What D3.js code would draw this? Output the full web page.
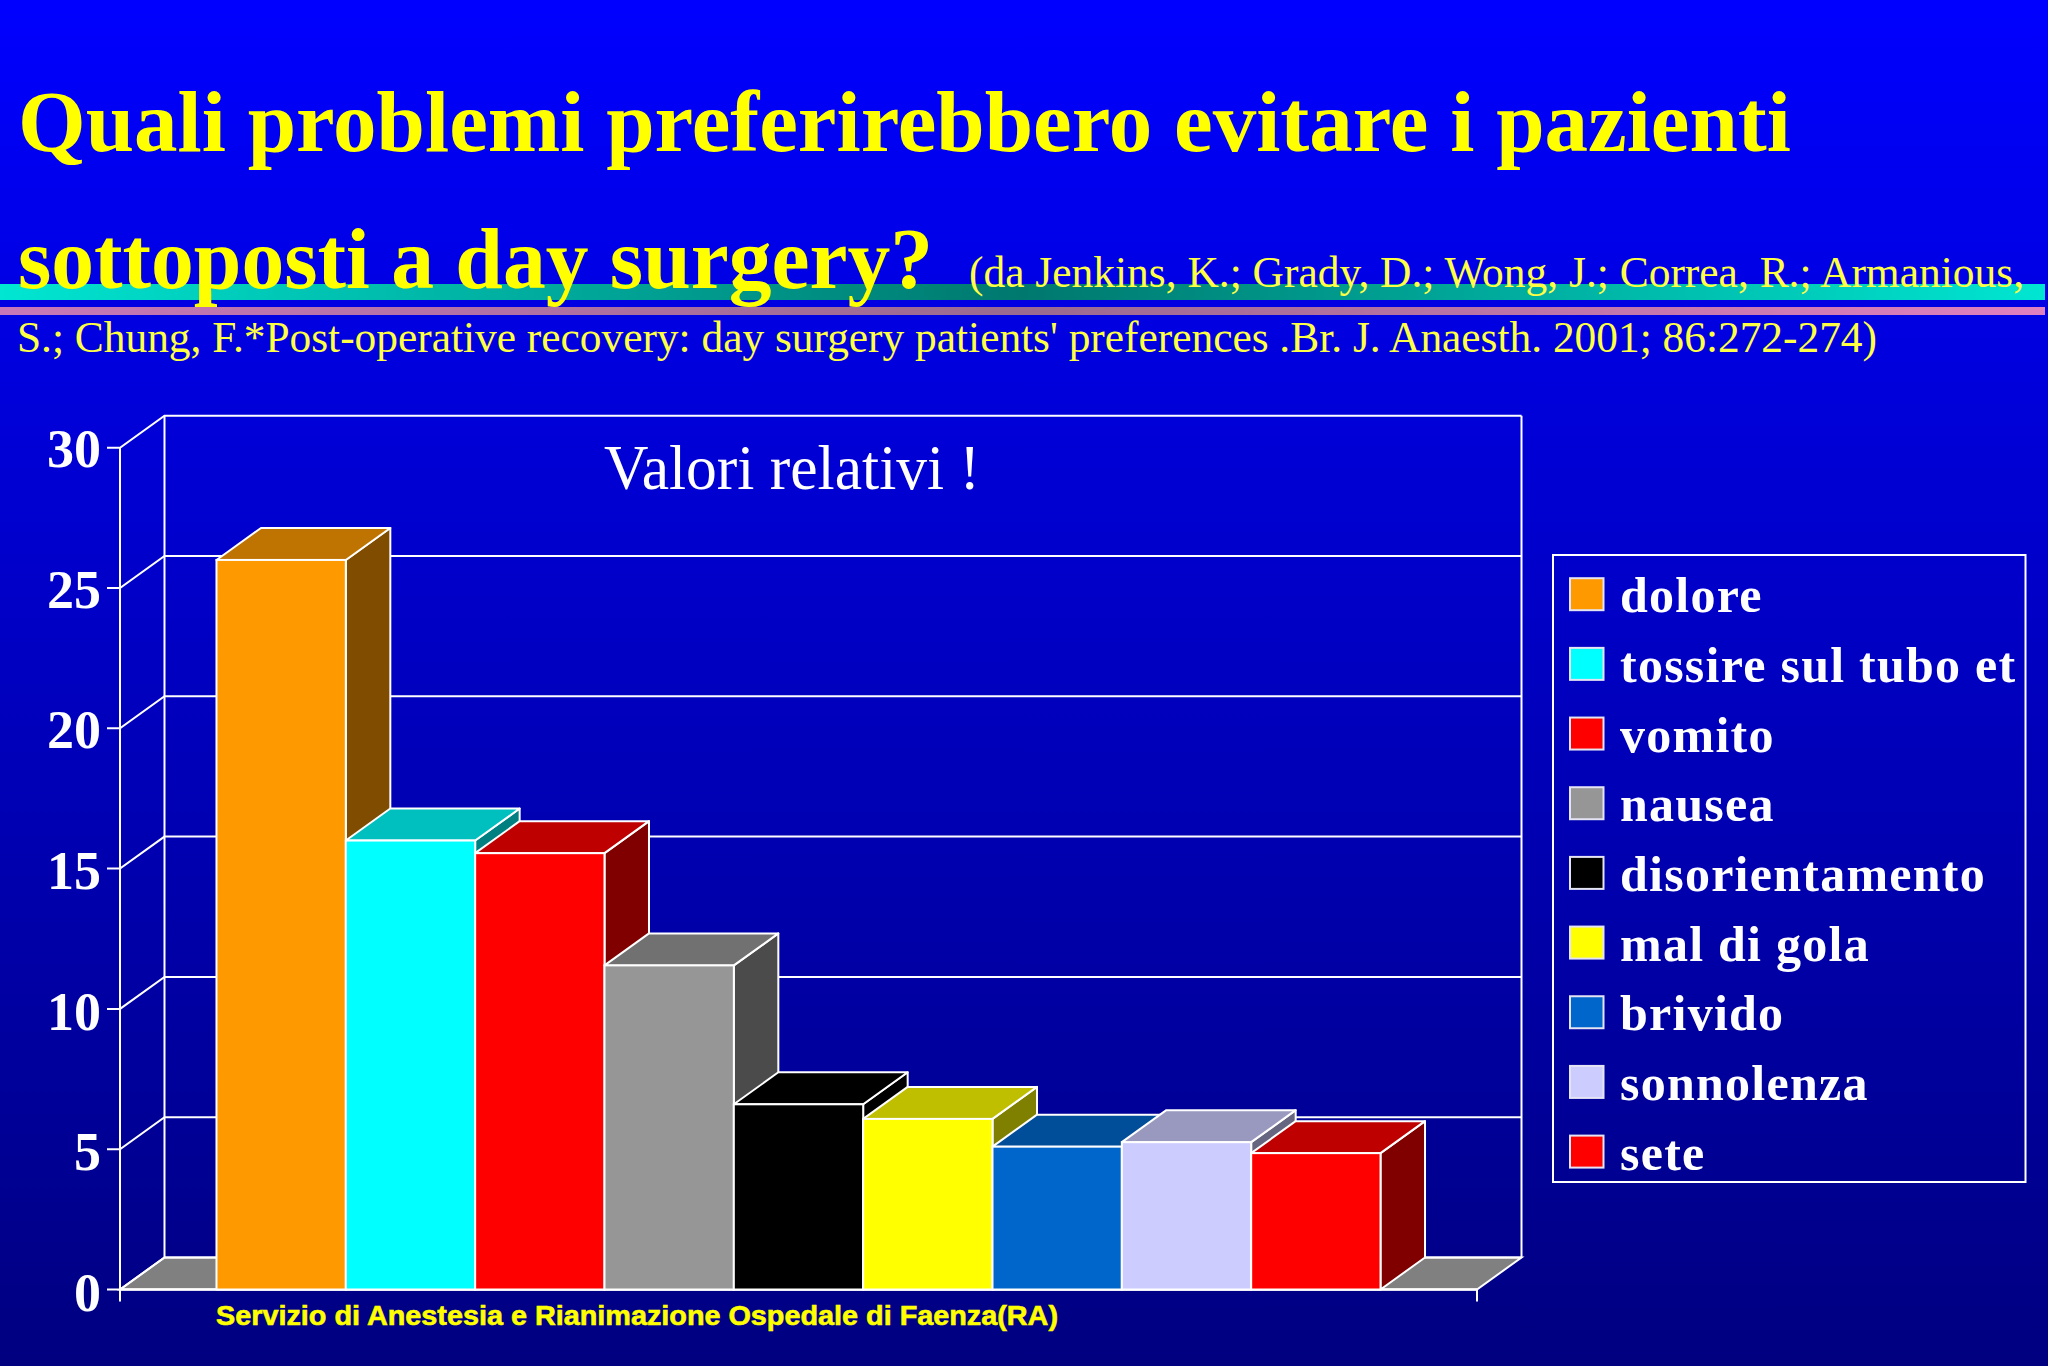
<!DOCTYPE html>
<html><head><meta charset="utf-8">
<script src="https://cdn.jsdelivr.net/npm/d3@7"></script>
<style>html,body{margin:0;padding:0;background:#000080;overflow:hidden}svg{display:block}</style>
</head><body><div id="c"></div>
<script>
const categories = ["dolore","tossire sul tubo et","vomito","nausea","disorientamento","mal di gola","brivido","sonnolenza","sete"];
const values = [26.0,16.0,15.55,11.55,6.6,6.08,5.09,5.25,4.86];
const colors = ["#FF9900","#00FFFF","#FF0000","#969696","#000000","#FFFF00","#0066CC","#CCCCFF","#FF0000"];
const yTicks = [0,5,10,15,20,25,30];
const titleLines = ["Quali problemi preferirebbero evitare i pazienti","sottoposti a day surgery?"];
const citeLines = ["(da Jenkins, K.; Grady, D.; Wong, J.; Correa, R.; Armanious,","S.; Chung, F.*Post-operative recovery: day surgery patients' preferences .Br. J. Anaesth. 2001; 86:272-274)"];
const note = "Valori relativi !";
const footer = "Servizio di Anestesia e Rianimazione Ospedale di Faenza(RA)";

const W=2048,H=1366;
const svg=d3.select("#c").append("svg").attr("width",W).attr("height",H);
const defs=svg.append("defs");
const lg=(id,stops,vertical)=>{const g=defs.append("linearGradient").attr("id",id).attr("x1",0).attr("y1",0).attr("x2",vertical?0:1).attr("y2",vertical?1:0);
  stops.forEach(s=>g.append("stop").attr("offset",s[0]).attr("stop-color",s[1]));};
lg("bg",[[0,"#0000FF"],[1,"#000080"]],true);
lg("band1",[[0,"#00E6D2"],[.5,"#00786E"],[1,"#00E6D2"]]);
lg("band2",[[0,"#C878B8"],[.5,"#9A6A90"],[1,"#E080C0"]]);
svg.append("rect").attr("width",W).attr("height",H).attr("fill","url(#bg)");
svg.append("rect").attr("x",0).attr("y",284).attr("width",2045).attr("height",16).attr("fill","url(#band1)");
svg.append("rect").attr("x",0).attr("y",307).attr("width",2045).attr("height",8).attr("fill","url(#band2)");

const serif="'Liberation Serif','Times New Roman',serif";
const txt=(s,x,y,size,fill,weight,len,fam)=>{const t=svg.append("text").attr("x",x).attr("y",y).attr("font-family",fam||serif).attr("font-size",size).attr("fill",fill).attr("font-weight",weight).text(s);
  if(len)t.attr("textLength",len).attr("lengthAdjust","spacingAndGlyphs");return t;};
txt(titleLines[0],18,151,87,"#FFFF00","bold",1773);
txt(titleLines[1],18,288,87,"#FFFF00","bold",915);
txt(citeLines[0],969,287,44,"#FFFF44","normal",1055);
txt(citeLines[1],17,352,44,"#FFFF44","normal",1860);

// chart geometry
const DX=44.5,DY=32;
const y=d3.scaleLinear().domain([0,30]).range([1289.5,447.7]);
const labelY=d3.scaleLinear().domain([0,30]).range([1311,467]);
const x=d3.scaleBand().domain(categories).range([120,1477]).paddingInner(0).paddingOuter(0.746);
const line=d3.line();
const g=svg.append("g");
const W2="#FFFFFF";
// floor
g.append("path").attr("d",line([[x.range()[0],y(0)],[x.range()[0]+DX,y(0)-DY],[x.range()[1]+DX,y(0)-DY],[x.range()[1],y(0)]])+"Z").attr("fill","#808080").attr("stroke",W2).attr("stroke-width",2);
// walls
const x0=x.range()[0],x1=x.range()[1];
g.append("path").attr("d",line([[x0,y(30)],[x0,y(0)+12]])).attr("stroke",W2).attr("stroke-width",2).attr("fill","none");
g.append("path").attr("d",line([[x0+DX,y(30)-DY],[x0+DX,y(0)-DY]])).attr("stroke",W2).attr("stroke-width",2);
g.append("path").attr("d",line([[x1+DX,y(30)-DY],[x1+DX,y(0)-DY]])).attr("stroke",W2).attr("stroke-width",2);
g.append("path").attr("d",line([[x1,y(0)],[x1,y(0)+12]])).attr("stroke",W2).attr("stroke-width",2);
g.append("path").attr("d",line([[x0,y(0)],[x1,y(0)]])).attr("stroke",W2).attr("stroke-width",2.5);
yTicks.forEach(v=>{
  g.append("path").attr("d",line([[x0-13,y(v)],[x0,y(v)],[x0+DX,y(v)-DY],[x1+DX,y(v)-DY]])).attr("fill","none").attr("stroke",W2).attr("stroke-width",2);
  g.append("text").attr("x",x0-19).attr("y",labelY(v)).attr("text-anchor","end").attr("font-family",serif).attr("font-weight","bold").attr("font-size",54).attr("fill","#FFFFFF").text(v);
});
// bars
const shade=(c,k)=>{const r=d3.rgb(c);return d3.rgb(r.r*k,r.g*k,r.b*k).formatHex();};
const bars=g.selectAll("g.bar").data(categories.map((c,i)=>({c,v:values[i],col:colors[i]}))).join("g").attr("class","bar");
bars.append("path").attr("d",d=>{const a=x(d.c)+x.bandwidth(),t=y(d.v),b=y(0);return line([[a,t],[a+DX,t-DY],[a+DX,b-DY],[a,b]])+"Z";}).attr("fill",d=>shade(d.col,.5)).attr("stroke",W2).attr("stroke-width",2).attr("stroke-linejoin","round");
bars.append("path").attr("d",d=>{const l=x(d.c),a=l+x.bandwidth(),t=y(d.v);return line([[l,t],[l+DX,t-DY],[a+DX,t-DY],[a,t]])+"Z";}).attr("fill",d=>shade(d.col,.75)).attr("stroke",W2).attr("stroke-width",2).attr("stroke-linejoin","round");
bars.append("rect").attr("x",d=>x(d.c)).attr("y",d=>y(d.v)).attr("width",x.bandwidth()).attr("height",d=>y(0)-y(d.v)).attr("fill",d=>d.col).attr("stroke",W2).attr("stroke-width",2);

txt(note,604,489,64,"#FFFFFF","normal",376);
txt(footer,216,1325,28,"#FFFF00","bold",842,"'Liberation Sans',Arial,sans-serif").attr("stroke","#FFFF00").attr("stroke-width",0.6);

// legend
const leg=svg.append("g");
leg.append("rect").attr("x",1553).attr("y",555).attr("width",472.5).attr("height",627).attr("fill","none").attr("stroke",W2).attr("stroke-width",2);
const ly=d3.scalePoint().domain(categories).range([594.2,1151.6]);
const items=leg.selectAll("g").data(categories.map((c,i)=>({c,col:colors[i]}))).join("g");
items.append("rect").attr("x",1570).attr("y",d=>ly(d.c)-16).attr("width",33.5).attr("height",32).attr("fill",d=>d.col).attr("stroke","#E4E4F4").attr("stroke-width",2);
items.append("text").attr("x",1620).attr("y",d=>ly(d.c)+18).attr("font-family",serif).attr("font-weight","bold").attr("font-size",50).attr("fill","#FFFFFF").attr("letter-spacing",1.25).text(d=>d.c);
</script></body></html>
